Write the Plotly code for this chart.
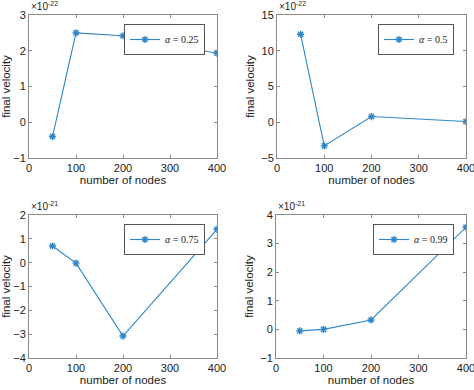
import plotly.graph_objects as go

nodes = [50, 100, 200, 400]
v_025 = [-0.4, 2.5, 2.42, 1.93]     # x1e-22
v_05 = [12.3, -3.3, 0.8, 0.1]       # x1e-22
v_075 = [0.7, -0.02, -3.08, 1.4]    # x1e-21
v_099 = [-0.05, 0.0, 0.33, 3.57]    # x1e-21

labels = ["0.25", "0.5", "0.75", "0.99"]
exps = ["-22", "-22", "-21", "-21"]
series = [v_025, v_05, v_075, v_099]
yranges = [[-1, 3], [-5, 15], [-4, 2], [-1, 4]]
ydticks = [1, 5, 1, 1]

W, H = 474, 390
# pixel boxes: left, right, top, bottom
boxes = [(29, 217, 15, 158), (277, 466, 15, 158), (29, 217, 215, 358), (276, 466, 215, 358)]

color = "#2f86c8"
axcol = "#8a8a8a"
fig = go.Figure()
for i, (vals, lab, ex, yr, dt, box) in enumerate(zip(series, labels, exps, yranges, ydticks, boxes)):
    n = "" if i == 0 else str(i + 1)
    l, r, t, b = box
    xd = [l / W, r / W]
    yd = [1 - b / H, 1 - t / H]
    fig.add_trace(go.Scatter(
        x=nodes, y=vals, mode="lines+markers",
        name=f"<i>α</i> = {lab}",
        line=dict(color=color, width=1.1),
        marker=dict(symbol="asterisk-open", size=6, color=color, line=dict(color=color, width=1.4)),
        xaxis="x" + n, yaxis="y" + n,
        legend="legend" + n,
    ))
    common = dict(showline=True, linecolor=axcol, linewidth=1, mirror="ticks",
                  ticks="inside", ticklen=3, tickcolor=axcol, showgrid=False, zeroline=False,
                  automargin=False, ticklabeloverflow="allow",
                  tickfont=dict(family="Liberation Sans, Arial", size=11, color="#222"))
    fig.update_layout(**{
        "xaxis" + n: dict(domain=xd, range=[0, 400], dtick=100, anchor="y" + n,
                          title=dict(text="number of nodes", standoff=2,
                                     font=dict(family="Liberation Sans, Arial", size=11.5, color="#222")),
                          **common),
        "yaxis" + n: dict(domain=yd, range=yr, dtick=dt, anchor="x" + n,
                          title=dict(text="final velocity", standoff=4,
                                     font=dict(family="Liberation Sans, Arial", size=11.5, color="#222")),
                          **common),
        "legend" + n: dict(x=(r - 12) / W, y=1 - (t + 9) / H, xanchor="right", yanchor="top",
                           xref="paper", yref="paper",
                           bgcolor="white", bordercolor="#555", borderwidth=1,
                           font=dict(family="Liberation Serif, Times New Roman", size=10, color="#222"),
                           itemwidth=30, tracegroupgap=0),
    })
    fig.add_annotation(x=l / W, y=1 - (t - 1) / H, xref="paper", yref="paper",
                       xanchor="left", yanchor="bottom", showarrow=False,
                       text=f"×10<sup>{ex}</sup>",
                       font=dict(family="Liberation Sans, Arial", size=10, color="#222"))

fig.update_layout(width=W, height=H, margin=dict(l=0, r=0, t=0, b=0),
                  plot_bgcolor="white", paper_bgcolor="white", showlegend=True)
fig.write_html("out.html", config={"displayModeBar": False},
               post_script="document.body.style.margin='0';document.body.style.overflow='hidden';")
